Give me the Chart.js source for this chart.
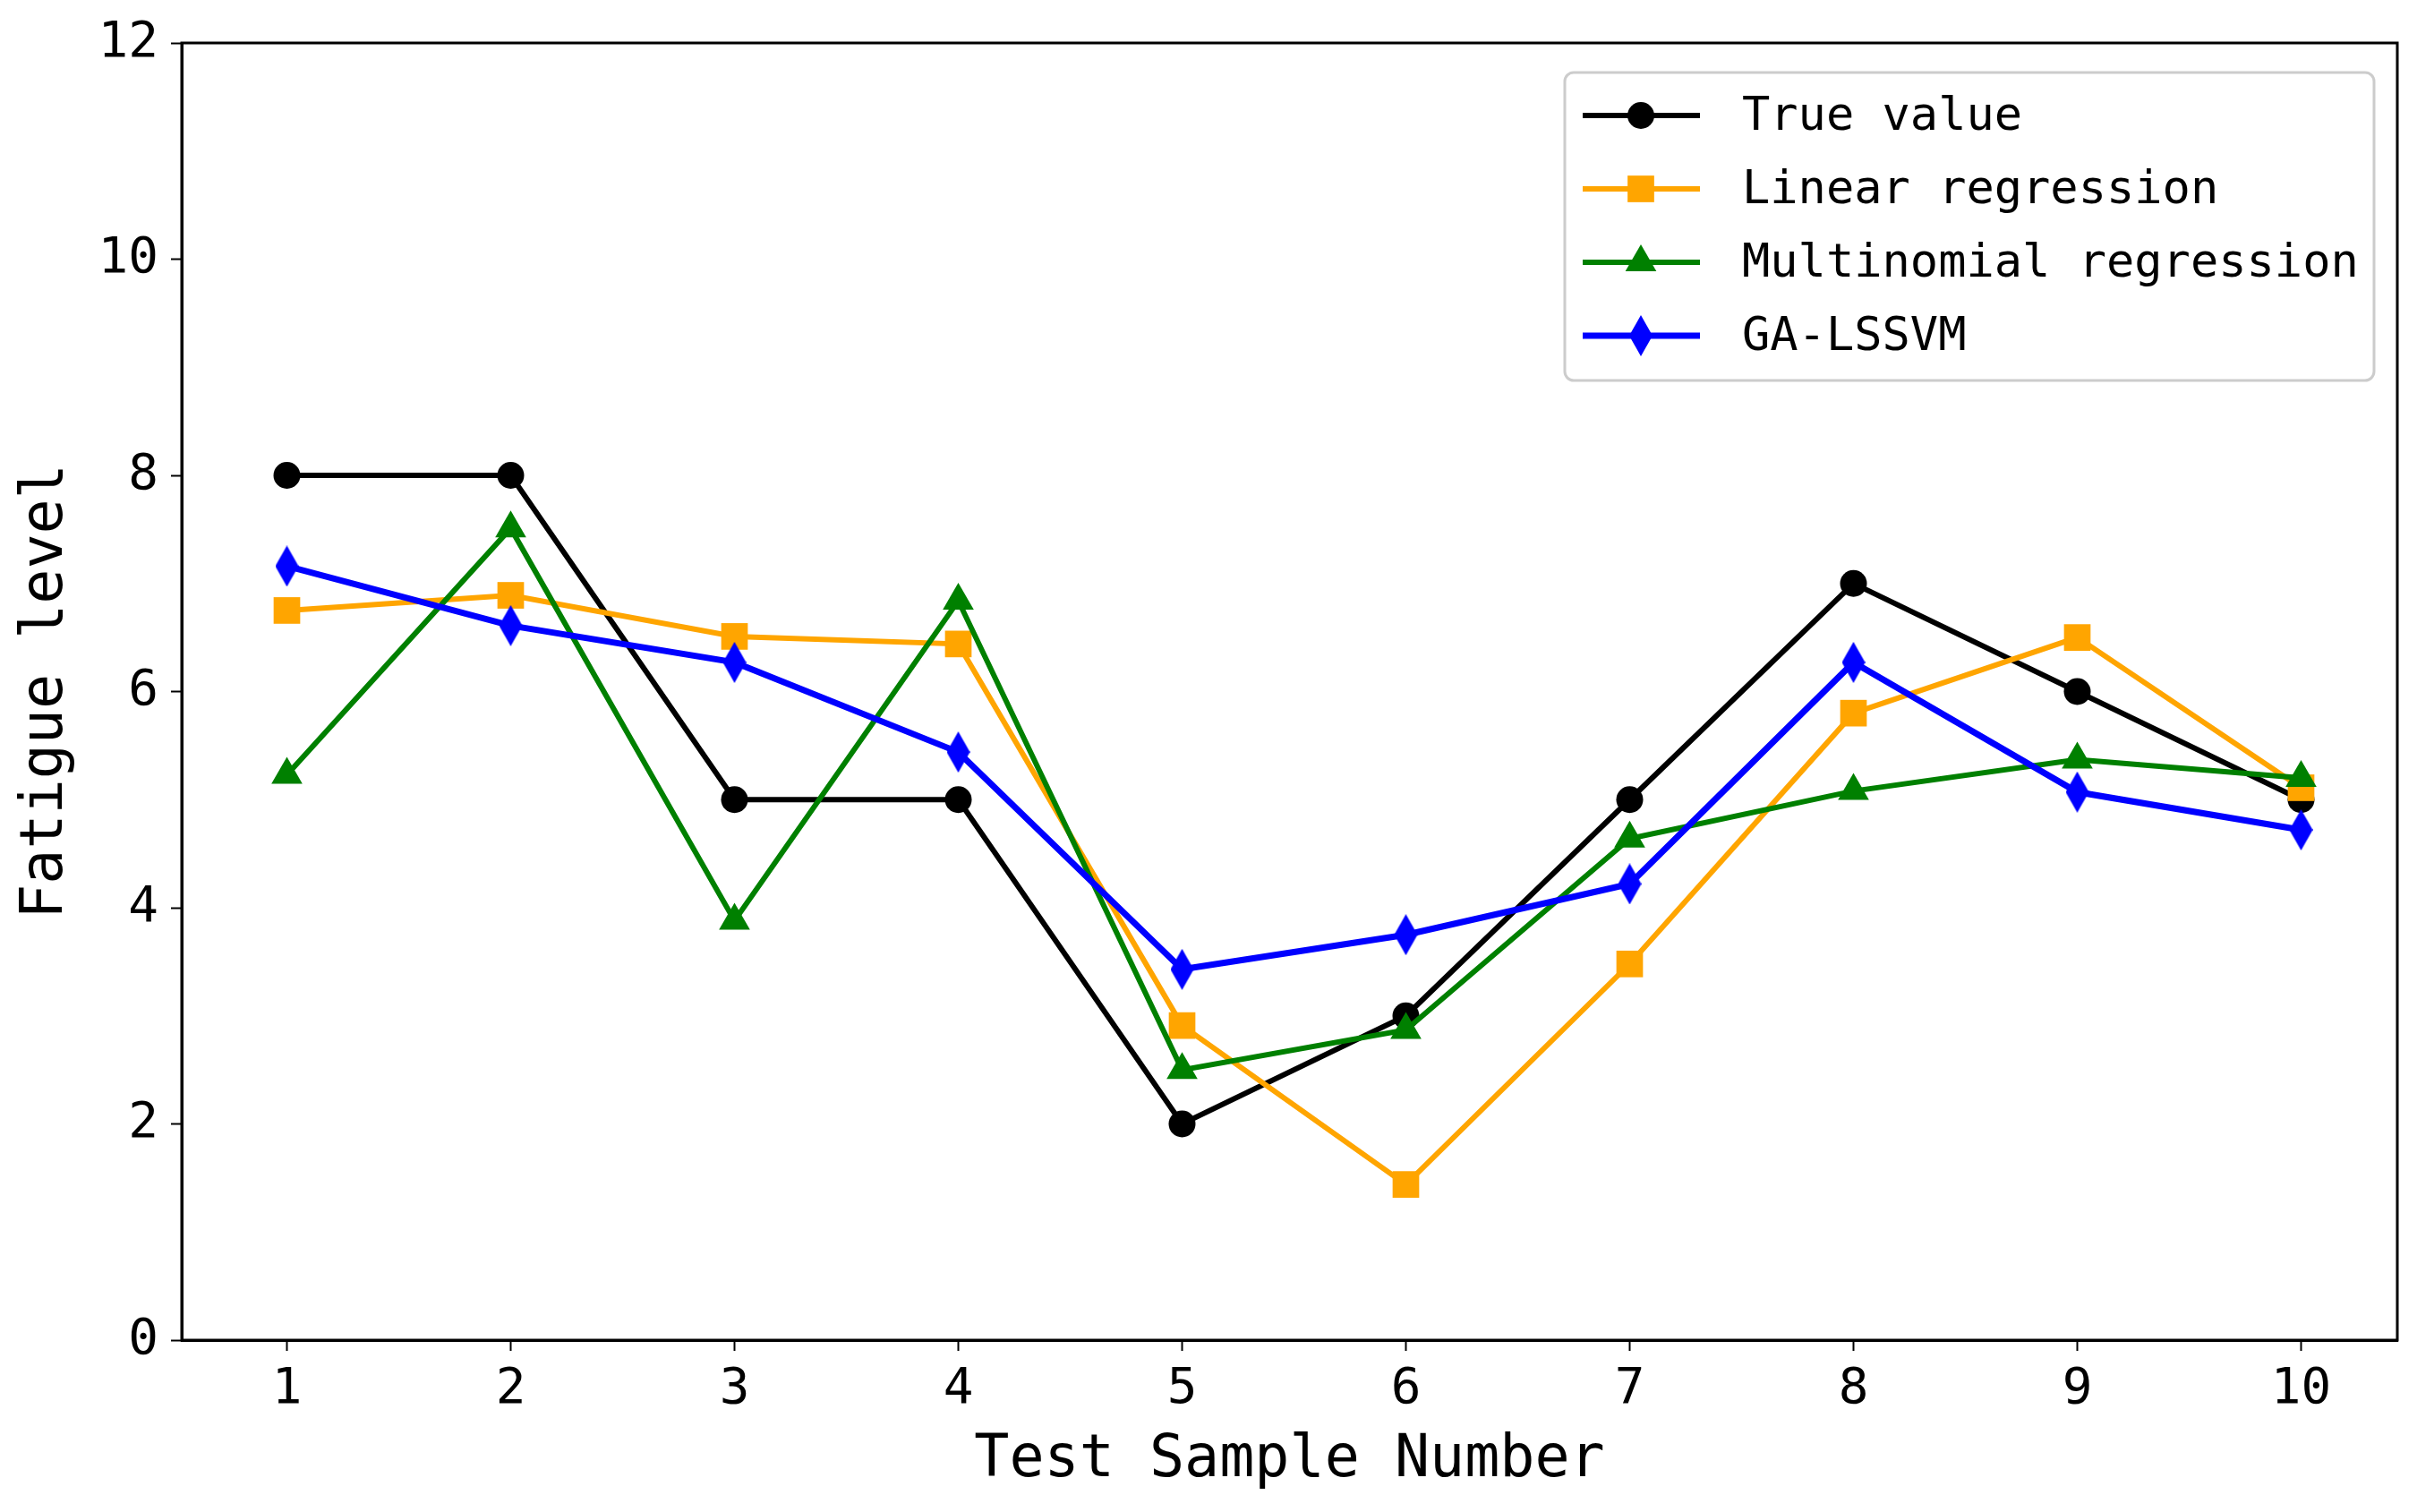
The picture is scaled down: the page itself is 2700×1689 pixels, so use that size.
<!DOCTYPE html>
<html>
<head>
<meta charset="utf-8">
<script src="https://cdn.jsdelivr.net/npm/chart.js@4.4.1/dist/chart.umd.min.js"></script>
<style>
  html, body { margin: 0; padding: 0; background: #fff; }
  #wrap { width: 2700px; height: 1689px; }
</style>
</head>
<body>
<div id="wrap"><canvas id="fatigueChart"></canvas></div>
<script>
// values
const samples = [1, 2, 3, 4, 5, 6, 7, 8, 9, 10];
const trueValue = [8, 8, 5, 5, 2, 3, 5, 7, 6, 5];
const linearReg = [6.75, 6.89, 6.51, 6.44, 2.91, 1.44, 3.48, 5.80, 6.50, 5.11];
const multiReg = [5.23, 7.51, 3.88, 6.84, 2.50, 2.87, 4.64, 5.08, 5.37, 5.20];
const gaLssvm = [7.16, 6.61, 6.27, 5.44, 3.43, 3.75, 4.22, 6.27, 5.07, 4.72];
const seriesNames = ['True value', 'Linear regression', 'Multinomial regression', 'GA-LSSVM'];

const monoFont = '"DejaVu Sans Mono", "Liberation Mono", monospace';

// matplotlib style thin diamond marker
function thinDiamond(color, w, h) {
    var c = document.createElement('canvas');
    c.width = w;
    c.height = h;
    var g = c.getContext('2d');
    g.fillStyle = color;
    g.beginPath();
    g.moveTo(w / 2, 0);
    g.lineTo(w, h / 2);
    g.lineTo(w / 2, h);
    g.lineTo(0, h / 2);
    g.closePath();
    g.fill();
    return c;
}

function series(label, values, color, style, radius, width, order) {
    return {
        label: label,
        data: samples.map(function (s, i) { return { x: s, y: values[i] }; }),
        borderColor: color,
        backgroundColor: color,
        pointBackgroundColor: color,
        pointBorderColor: color,
        pointBorderWidth: 0,
        borderWidth: width,
        pointStyle: style,
        pointRadius: radius,
        pointHoverRadius: radius,
        tension: 0,
        order: order
    };
}

const datasets = [
    series(seriesNames[0], trueValue, '#000000', 'circle', 15, 6, 4),
    series(seriesNames[1], linearReg, '#FFA500', 'rect', 21, 6, 3),
    series(seriesNames[2], multiReg, '#008000', 'triangle', 20, 6, 2),
    series(seriesNames[3], gaLssvm, '#0000FF', thinDiamond('#0000FF', 26, 46), 15, 7, 1)
];

// box around the plot, like matplotlib spines
const framePlugin = {
    id: 'frame',
    afterDatasetsDraw: function (chart) {
        var a = chart.chartArea;
        var ctx = chart.ctx;
        ctx.save();
        ctx.strokeStyle = '#000';
        ctx.lineWidth = 3;
        ctx.strokeRect(a.left, a.top, a.right - a.left, a.bottom - a.top);
        ctx.restore();
    }
};

// legend inside the axes, top right, line + marker
const legendPlugin = {
    id: 'boxLegend',
    afterDraw: function (chart) {
        var ctx = chart.ctx;
        var boxX = 1748, boxY = 81, boxW = 904, boxH = 344;
        ctx.save();
        ctx.fillStyle = 'rgba(255,255,255,0.85)';
        ctx.strokeStyle = '#cccccc';
        ctx.lineWidth = 3;
        ctx.beginPath();
        ctx.roundRect(boxX, boxY, boxW, boxH, 10);
        ctx.fill();
        ctx.stroke();

        ctx.font = '52px ' + monoFont;
        ctx.textBaseline = 'middle';
        chart.data.datasets.forEach(function (ds, i) {
            var y = 129 + i * 82;
            ctx.strokeStyle = ds.borderColor;
            ctx.lineWidth = ds.borderWidth;
            ctx.beginPath();
            ctx.moveTo(1768, y);
            ctx.lineTo(1899, y);
            ctx.stroke();
            ctx.fillStyle = ds.backgroundColor;
            Chart.helpers.drawPoint(ctx, {
                pointStyle: ds.pointStyle,
                radius: ds.pointRadius,
                rotation: 0,
                borderWidth: 0
            }, 1833, y);
            ctx.fillStyle = '#000';
            ctx.fillText(ds.label, 1946, y + 2);
        });
        ctx.restore();
    }
};

const ctx = document.getElementById('fatigueChart').getContext('2d');

const fatigueChart = new Chart(ctx, {
    type: 'line',
    data: { datasets: datasets },
    options: {
        responsive: true,
        maintainAspectRatio: false,
        animation: false,
        layout: {
            padding: { top: 48, right: 22, left: 0, bottom: 0 }
        },
        plugins: {
            legend: { display: false },
            tooltip: { enabled: false }
        },
        scales: {
            x: {
                type: 'linear',
                min: 0.53,
                max: 10.43,
                afterBuildTicks: function (scale) {
                    scale.ticks = samples.map(function (v) { return { value: v }; });
                },
                afterFit: function (scale) {
                    scale.height = 192;
                },
                grid: {
                    drawOnChartArea: false,
                    drawTicks: true,
                    tickLength: 12,
                    tickWidth: 2,
                    color: '#000'
                },
                border: { display: true, color: '#000', width: 3 },
                ticks: {
                    color: '#000',
                    padding: 10,
                    maxRotation: 0,
                    font: { family: monoFont, size: 56 }
                },
                title: {
                    display: true,
                    text: 'Test Sample Number',
                    color: '#000',
                    padding: { top: 18, bottom: 18 },
                    font: { family: monoFont, size: 65 }
                }
            },
            y: {
                min: 0,
                max: 12,
                afterFit: function (scale) {
                    scale.width = 203;
                },
                grid: {
                    drawOnChartArea: false,
                    drawTicks: true,
                    tickLength: 12,
                    tickWidth: 2,
                    color: '#000'
                },
                border: { display: true, color: '#000', width: 3 },
                ticks: {
                    stepSize: 2,
                    color: '#000',
                    padding: 14,
                    font: { family: monoFont, size: 56 }
                },
                title: {
                    display: true,
                    text: 'Fatigue level',
                    color: '#000',
                    padding: { top: 13, bottom: 13 },
                    font: { family: monoFont, size: 65 }
                }
            }
        }
    },
    plugins: [framePlugin, legendPlugin]
});
</script>
</body>
</html>
